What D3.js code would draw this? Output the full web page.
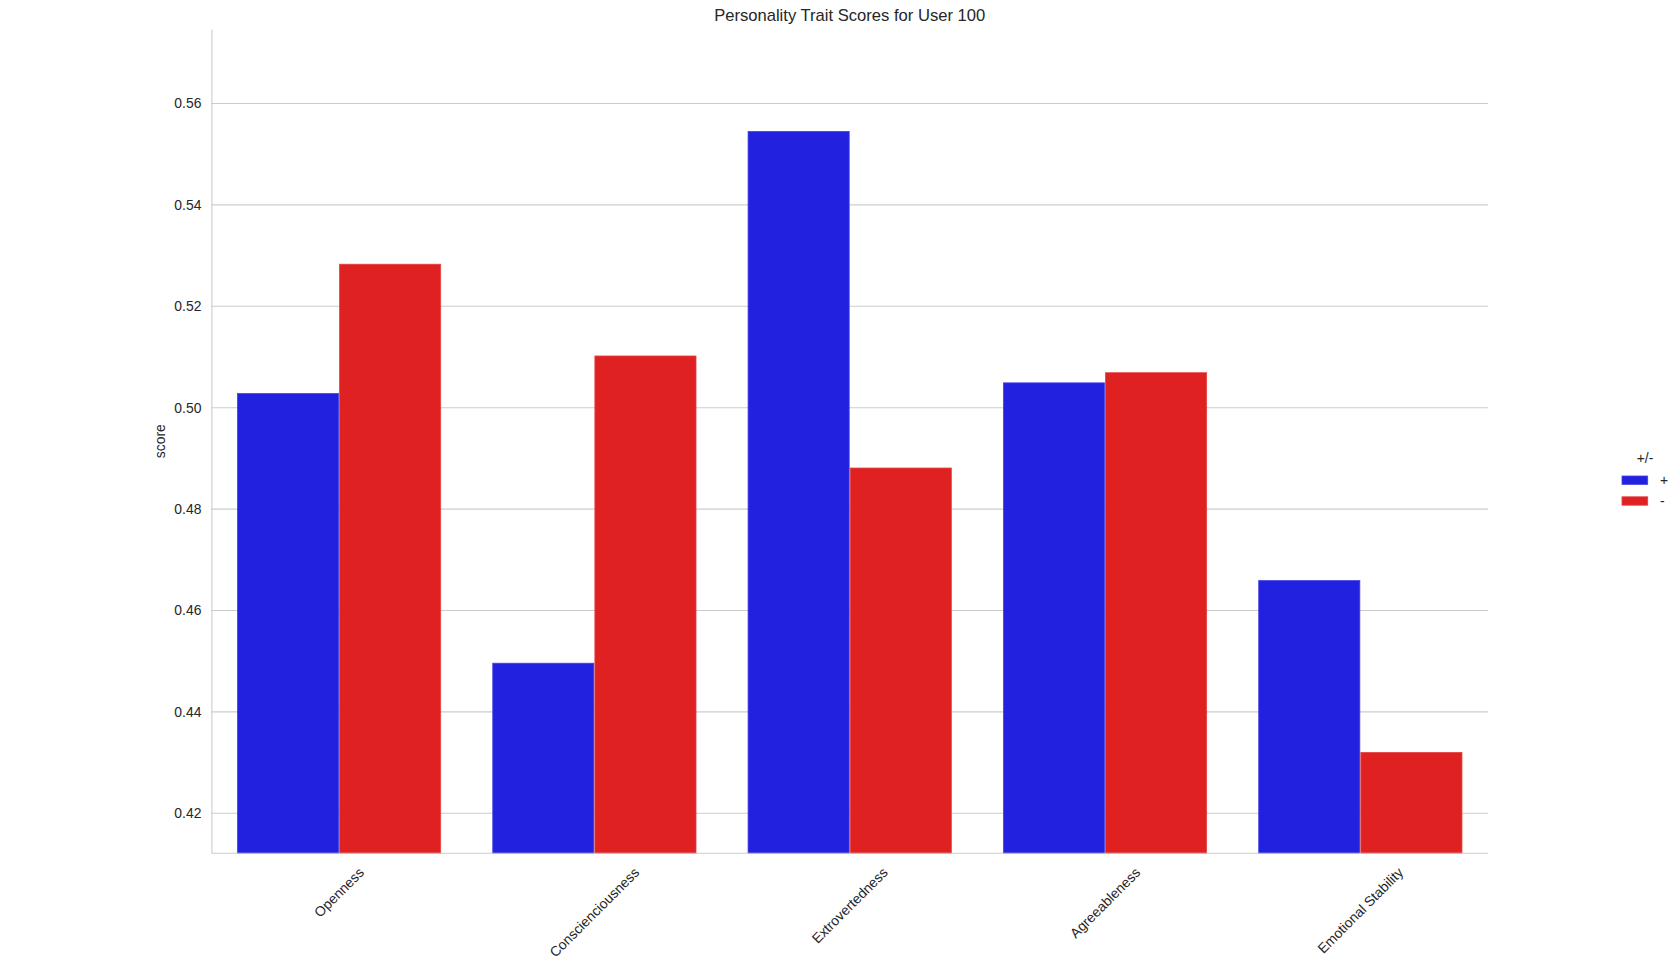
<!DOCTYPE html>
<html>
<head>
<meta charset="utf-8">
<style>
  body { margin: 0; background: #fff; }
  text { font-family: "Liberation Sans", Arial, sans-serif; fill: #262626; }
</style>
</head>
<body>
<svg id="chart" width="1680" height="961"></svg>
<script src="https://d3js.org/d3.v7.min.js"></script>
<script>
// data
var traits = ["Openness", "Conscienciousness", "Extrovertedness", "Agreeableness", "Emotional Stability"];
var signs = ["+", "-"];
var plusScores = [0.5028, 0.4496, 0.5545, 0.5049, 0.4659];
var minusScores = [0.5283, 0.5102, 0.4881, 0.5069, 0.4320];
var yTicks = [0.42, 0.44, 0.46, 0.48, 0.50, 0.52, 0.54, 0.56];

var colors = { "+": "#2121df", "-": "#df2121" };
var edges = { "+": "#4343e4", "-": "#e44343" };

var rows = [];
traits.forEach(function (t, i) {
  rows.push({ trait: t, sign: "+", score: plusScores[i] });
  rows.push({ trait: t, sign: "-", score: minusScores[i] });
});

var W = 1680, H = 961;
var margin = { left: 211.4, right: W - 1488, top: 29, bottom: H - 853.3 };
var innerW = W - margin.left - margin.right;
var innerH = H - margin.top - margin.bottom;

var svg = d3.select("#chart");
var g = svg.append("g").attr("transform", "translate(" + margin.left + "," + margin.top + ")");

var x = d3.scaleBand().domain(traits).range([0, innerW]).paddingInner(0.2).paddingOuter(0.1);
var xSub = d3.scaleBand().domain(signs).range([0, x.bandwidth()]);
var y = d3.scaleLinear().domain([0.4121, 0.5747]).range([innerH, 0]);

// grid
g.append("g")
  .selectAll("line")
  .data(yTicks)
  .enter()
  .append("line")
  .attr("x1", 0)
  .attr("x2", innerW)
  .attr("y1", d => y(d))
  .attr("y2", d => y(d))
  .style("stroke", "#cccccc")
  .style("stroke-width", 1.1);

// bars
g.append("g")
  .selectAll("rect")
  .data(rows)
  .enter()
  .append("rect")
  .attr("x", d => x(d.trait) + xSub(d.sign) + 0.5)
  .attr("width", xSub.bandwidth() - 1)
  .attr("y", d => y(d.score))
  .attr("height", d => innerH - y(d.score))
  .style("fill", d => colors[d.sign])
  .style("stroke", d => edges[d.sign])
  .style("stroke-width", 0.8);

// y axis
var yAxis = g.append("g")
  .call(d3.axisLeft(y).tickValues(yTicks).tickSize(0).tickPadding(10).tickFormat(d3.format(".2f")));
yAxis.select(".domain").style("stroke", "#cccccc").style("stroke-width", 1.1);
yAxis.selectAll("text")
  .style("font-size", "13.9px")
  .style("fill", "#262626")
  .style("font-family", "Liberation Sans, Arial, sans-serif");

// x axis
var xAxis = g.append("g")
  .attr("transform", "translate(0," + innerH + ")")
  .call(d3.axisBottom(x).tickSize(0).tickFormat(""));
xAxis.select(".domain").style("stroke", "#cccccc").style("stroke-width", 1.1)
  .attr("d", "M0,0H" + innerW);

var xl = g.append("g").attr("transform", "translate(0," + innerH + ")");
traits.forEach(function (t) {
  var cx = x(t) + x.bandwidth() / 2;
  var txt = xl.append("text")
    .attr("text-anchor", "middle")
    .attr("dy", "0.35em")
    .style("font-size", "13.9px")
    .text(t);
  var len = txt.node().getComputedTextLength();
  var half = (len + 13.9 * 1.15) / 2 * Math.SQRT1_2;
  var cy = 11 + half;
  txt.attr("transform", "translate(" + cx + "," + cy + ") rotate(-45)");
});

// axis titles
svg.append("text")
  .attr("transform", "translate(165," + (margin.top + innerH / 2) + ") rotate(-90)")
  .attr("text-anchor", "middle")
  .style("font-size", "13.9px")
  .text("score");

svg.append("text")
  .attr("x", margin.left + innerW / 2)
  .attr("y", 20.5)
  .attr("text-anchor", "middle")
  .style("font-size", "16.6px")
  .text("Personality Trait Scores for User 100");

// legend
var legend = svg.append("g").attr("transform", "translate(1622,0)");
legend.append("text")
  .attr("x", 23)
  .attr("y", 463)
  .attr("text-anchor", "middle")
  .style("font-size", "13.9px")
  .text("+/-");
signs.forEach(function (s, i) {
  var cy = 480.2 + i * 20.8;
  legend.append("rect")
    .attr("x", 0)
    .attr("y", cy - 4.2)
    .attr("width", 25.7)
    .attr("height", 8.4)
    .style("fill", colors[s])
    .style("stroke", edges[s])
    .style("stroke-width", 0.8);
  legend.append("text")
    .attr("x", 38)
    .attr("y", cy)
    .attr("dy", "0.35em")
    .style("font-size", "13.9px")
    .text(s);
});
</script>
</body>
</html>
